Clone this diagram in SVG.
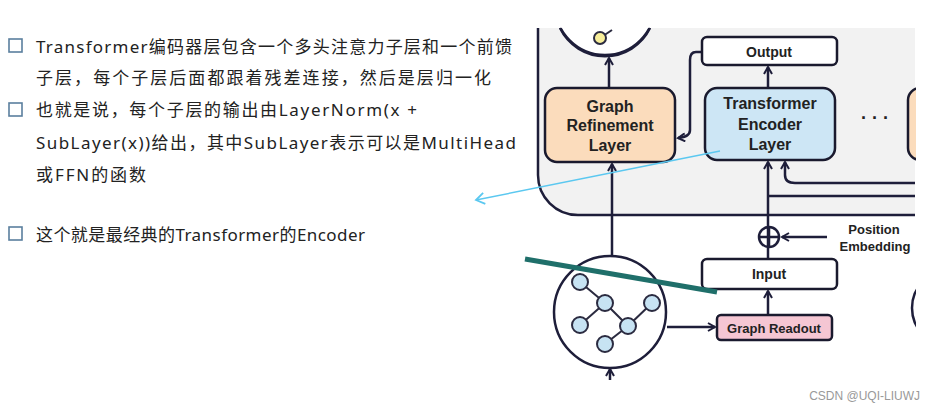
<svg xmlns="http://www.w3.org/2000/svg" width="934" height="412" viewBox="0 0 934 412">
<defs>
<style>
.t{font-family:"Noto Sans","Noto Sans CJK SC",sans-serif;font-size:17px;fill:#222}
.cb{fill:#fff;stroke:#5a7f9e;stroke-width:1.6}
.box{stroke:#1a1a2e;stroke-width:2.5}
.lb{font-family:"Liberation Sans",Arial,sans-serif;font-weight:bold;fill:#222;text-anchor:middle}
.ln{fill:none;stroke:#1e1e3a;stroke-width:2.5}
.nd{fill:#c7e3f3;stroke:#2b2b40;stroke-width:2}
</style>
<marker id="ah" viewBox="0 0 10 10" refX="8" refY="5" markerWidth="4" markerHeight="4" orient="auto-start-reverse"><path d="M1,1 L8,5 L1,9" fill="none" stroke="#1e1e3a" stroke-width="2"/></marker>
<marker id="bh" viewBox="0 0 10 10" refX="8" refY="5" markerWidth="14" markerHeight="14" orient="auto" markerUnits="userSpaceOnUse"><path d="M2,1 L8,5 L2,9" fill="none" stroke="#5bc8f0" stroke-width="1.3"/></marker>
</defs>
<rect width="934" height="412" fill="#fff"/>
<g id="text">
<rect class="cb" x="9" y="39" width="13" height="13"/>
<text class="t" x="36" y="53" textLength="476">Transformer编码器层包含一个多头注意力子层和一个前馈</text>
<text class="t" x="36" y="84" textLength="455">子层，每个子层后面都跟着残差连接，然后是层归一化</text>
<rect class="cb" x="9" y="103" width="13" height="13"/>
<text class="t" x="36" y="116" textLength="381">也就是说，每个子层的输出由LayerNorm(x +</text>
<text class="t" x="36" y="149" textLength="480">SubLayer(x))给出，其中SubLayer表示可以是MultiHead</text>
<text class="t" x="36" y="181" textLength="110">或FFN的函数</text>
<rect class="cb" x="9" y="227" width="13" height="13"/>
<text class="t" x="36" y="241" textLength="329">这个就是最经典的Transformer的Encoder</text>
</g>
<g id="container">
<path d="M538,28 V175 A40,40 0 0 0 578,215 H915 V28 Z" fill="#f2f2f2"/>
<path d="M538,28 V175 A40,40 0 0 0 578,215 H915" fill="none" stroke="#1e1e3a" stroke-width="2.5"/>
<rect x="718" y="20" width="108" height="8" fill="#fff"/>
<circle cx="605" cy="5" r="50" fill="#fff" stroke="#1e1e3a" stroke-width="2.5"/>
<rect x="530" y="0" width="404" height="28" fill="#fff"/>
<path d="M560,28 A50,50 0 0 0 650,28" fill="none" stroke="#1e1e3a" stroke-width="2.5"/>
<line x1="600" y1="38" x2="612" y2="30" stroke="#2b2b40" stroke-width="2"/>
<circle cx="600" cy="38" r="6" fill="#f7ee9a" stroke="#2b2b40" stroke-width="2"/>
</g>
<g id="connectors">
<line class="ln" x1="768" y1="88" x2="768" y2="67" marker-end="url(#ah)"/>
<line class="ln" x1="609" y1="88" x2="609" y2="58" marker-end="url(#ah)"/>
<path class="ln" d="M702,52 H696 Q690,52 690,60 V130 Q690,137 678,138" marker-end="url(#ah)"/>
<line class="ln" x1="612" y1="256" x2="612" y2="164" marker-end="url(#ah)"/>
<line class="ln" x1="768" y1="259" x2="768" y2="162" marker-end="url(#ah)"/>
<path class="ln" d="M915,183 H795 Q785,183 785,175 V162" marker-end="url(#ah)"/>
<line class="ln" x1="768" y1="196" x2="915" y2="196"/>
<line class="ln" x1="827" y1="237" x2="782" y2="237" marker-end="url(#ah)"/>
<line class="ln" x1="768" y1="315" x2="768" y2="291" marker-end="url(#ah)"/>
<line class="ln" x1="667" y1="327" x2="715" y2="327" marker-end="url(#ah)"/>
<line class="ln" x1="610" y1="380" x2="610" y2="369" marker-end="url(#ah)"/>
</g>
<g id="output"><rect class="box" x="702" y="37" width="135" height="28" rx="5" fill="#fff"/><text class="lb" x="769" y="57" font-size="14">Output</text></g>
<g id="graph-refinement"><rect class="box" x="545" y="88" width="130" height="74" rx="12" fill="#fbdcbc"/><text class="lb" x="610" y="112" font-size="16">Graph</text><text class="lb" x="610" y="131" font-size="16">Refinement</text><text class="lb" x="610" y="151" font-size="16">Layer</text></g>
<g id="encoder"><rect class="box" x="705" y="88" width="130" height="72" rx="12" fill="#cde6f5"/><text class="lb" x="770" y="109" font-size="16">Transformer</text><text class="lb" x="770" y="130" font-size="16">Encoder</text><text class="lb" x="770" y="150" font-size="16">Layer</text></g>
<g id="dots"><text class="lb" x="875" y="124" font-size="18">· · ·</text></g>
<g id="right-box"><rect class="box" x="908" y="88" width="40" height="72" rx="12" fill="#fbdcbc"/></g>
<g id="plus"><circle cx="769" cy="237" r="10" fill="none" stroke="#1e1e3a" stroke-width="2.5"/><line class="ln" x1="759" y1="237" x2="779" y2="237"/><line class="ln" x1="769" y1="227" x2="769" y2="247"/></g>
<g id="position"><text class="lb" x="874" y="234" font-size="13">Position</text><text class="lb" x="875" y="251" font-size="13">Embedding</text></g>
<g id="input"><rect class="box" x="702" y="259" width="135" height="30" rx="5" fill="#fff"/><text class="lb" x="769" y="279" font-size="14">Input</text></g>
<g id="readout"><rect class="box" x="717" y="315" width="115" height="25" rx="4" fill="#f5c6d3"/><text class="lb" x="774" y="333" font-size="13">Graph Readout</text></g>
<g id="graph">
<circle cx="610" cy="312" r="56" fill="#fff" stroke="#1e1e3a" stroke-width="2.5"/>
<path d="M580,282 L605,303 L628,326 L652,303 M580,325 L605,303 M605,344 L628,326" stroke="#2b2b40" stroke-width="2" fill="none"/>
<circle class="nd" cx="580" cy="282" r="8"/><circle class="nd" cx="605" cy="303" r="8"/><circle class="nd" cx="652" cy="303" r="8"/><circle class="nd" cx="580" cy="325" r="8"/><circle class="nd" cx="628" cy="326" r="8"/><circle class="nd" cx="605" cy="344" r="8"/>
</g>
<g id="right-circle"><circle cx="950" cy="308" r="38" fill="#fff" stroke="#1e1e3a" stroke-width="2.5"/></g>
<rect x="916" y="0" width="18" height="412" fill="#fff"/>
<line x1="525" y1="259" x2="717" y2="292" stroke="#1f6f6a" stroke-width="5"/>
<line x1="720" y1="151" x2="476" y2="200" stroke="#5bc8f0" stroke-width="1.5" marker-end="url(#bh)"/>
<text x="920" y="400" font-family="Liberation Sans,Arial,sans-serif" font-size="12" fill="#999" text-anchor="end">CSDN @UQI-LIUWJ</text>
</svg>
